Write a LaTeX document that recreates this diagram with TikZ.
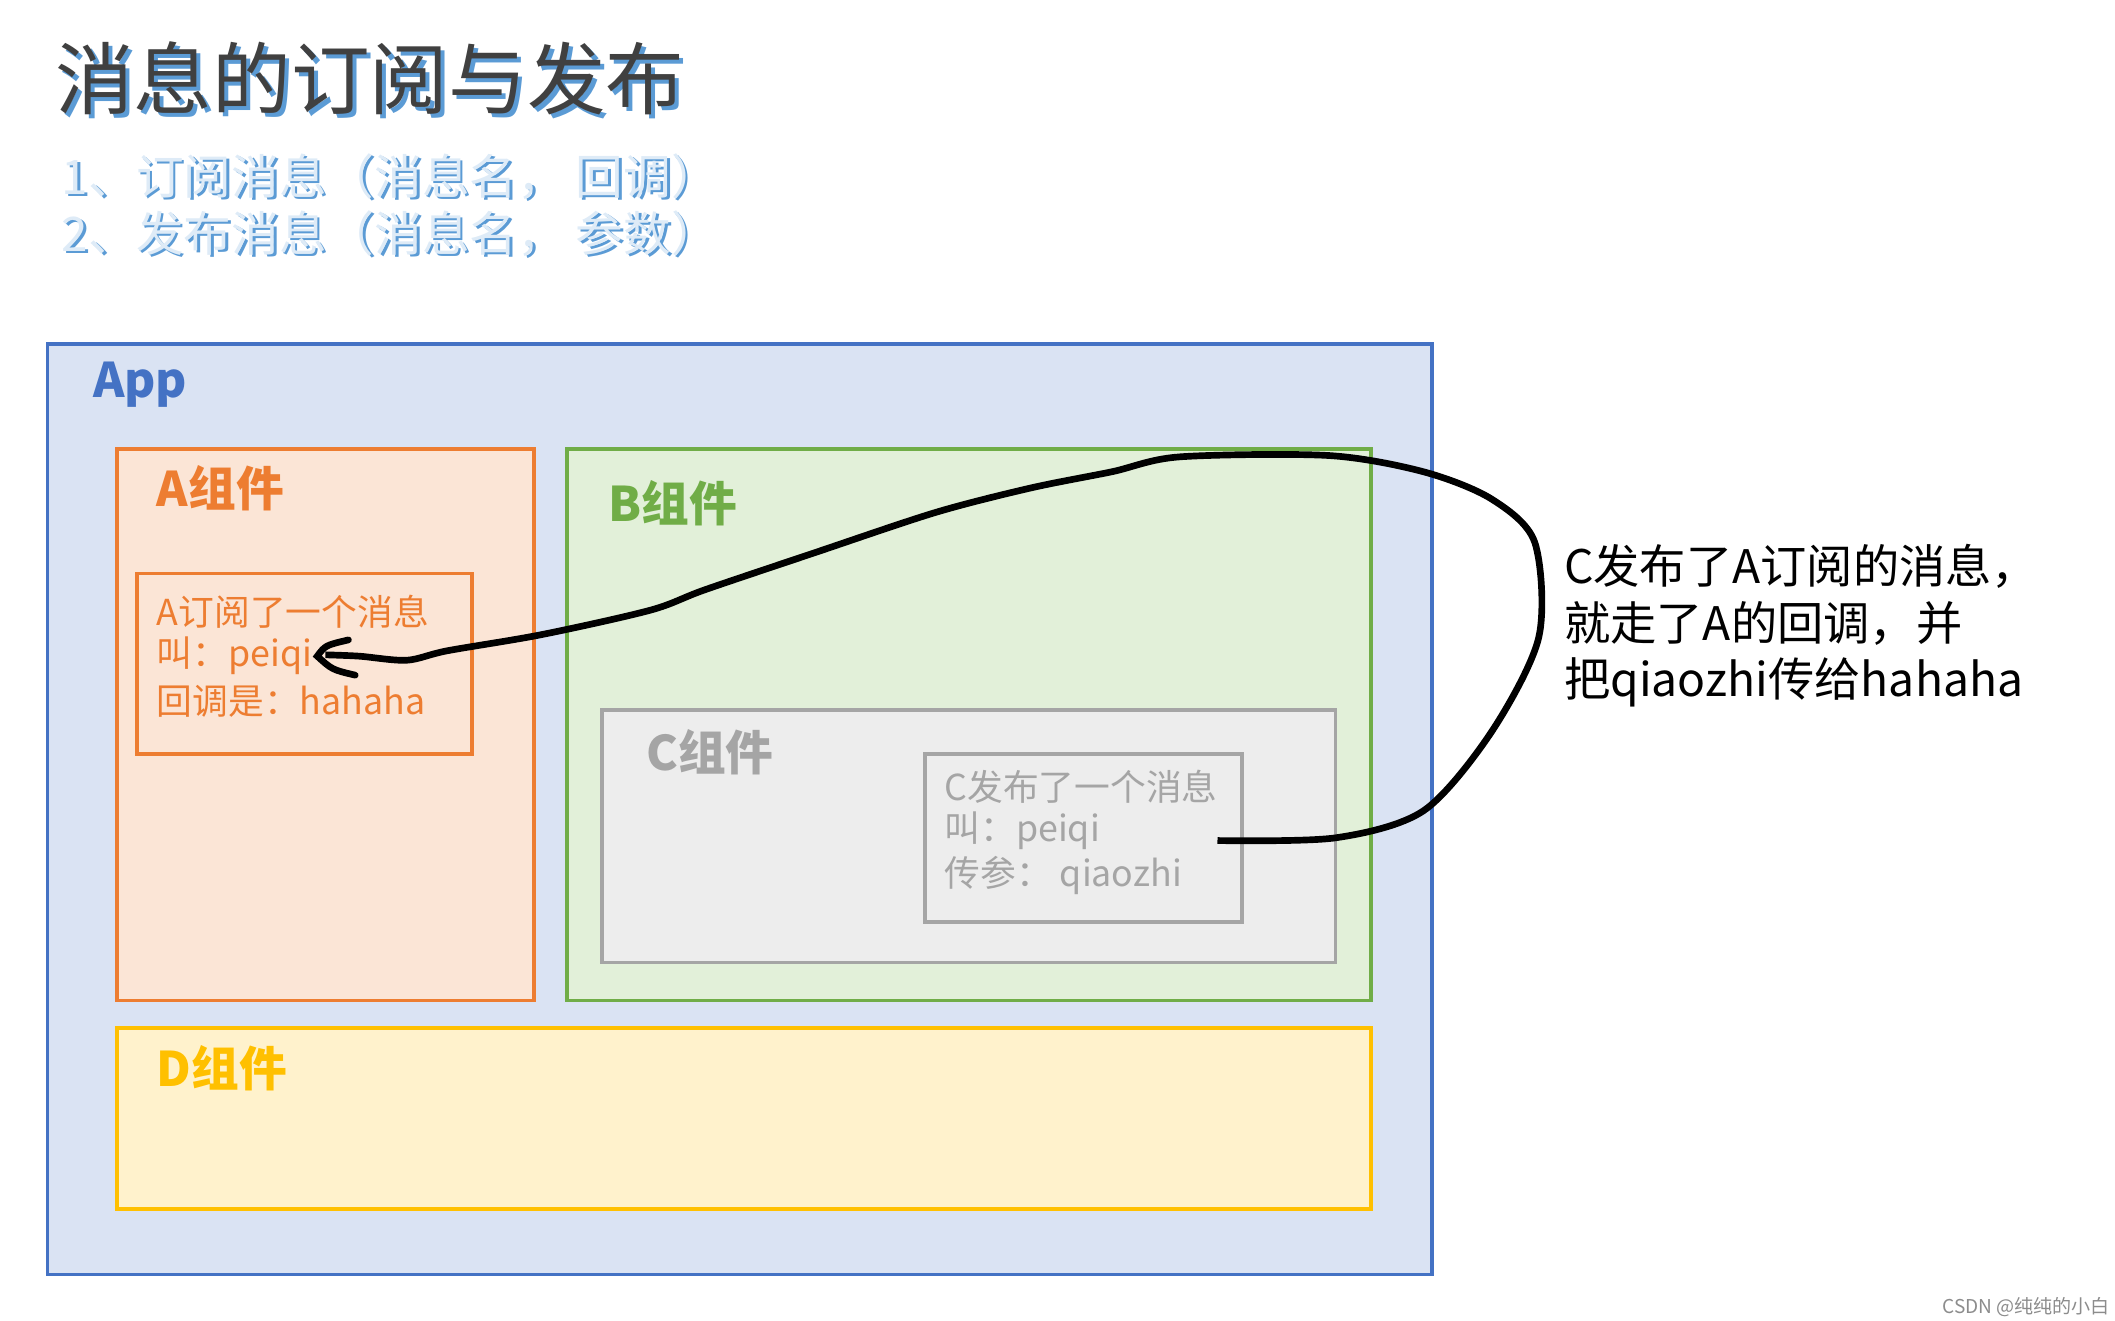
\documentclass[tikz,border=0pt]{standalone}
\usepackage{fontspec}
\setmainfont{Noto Sans CJK SC}
\newfontfamily\lightcjk{Noto Sans CJK SC Light}
\definecolor{appf}{HTML}{DAE3F3}\definecolor{appd}{HTML}{4472C4}
\definecolor{af}{HTML}{FBE5D6}\definecolor{ad}{HTML}{ED7D31}
\definecolor{bf}{HTML}{E2F0D9}\definecolor{bd}{HTML}{70AD47}
\definecolor{cf}{HTML}{EDEDED}\definecolor{cd}{HTML}{A5A5A5}
\definecolor{df}{HTML}{FFF2CC}\definecolor{dd}{HTML}{FFC000}
\definecolor{shb}{HTML}{5B9BD5}
\begin{document}
\begin{tikzpicture}[x=0.01cm,y=-0.01cm,
  lbl/.style={anchor=west,inner sep=0pt},
  hdr/.style={lbl,font=\fontsize{10pt}{12pt}\selectfont\bfseries},
  small/.style={lbl,font=\fontsize{7.5pt}{9pt}\selectfont},
  box/.style={line width=0.8pt}]
\useasboundingbox (0,0) rectangle (1560,974);
% title
\node[lbl,text=shb,font=\fontsize{16.5pt}{20pt}\selectfont] (tsh) at (43,61) {消息的订阅与发布};
\node[lbl,text=black!75,font=\fontsize{16.5pt}{20pt}\selectfont] (title) at (40,58) {消息的订阅与发布};
\foreach \t/\yy/\n in {1、订阅消息（消息名，\ 回调）/130/a,2、发布消息（消息名，\ 参数）/172/b}{
  \node[lbl,text=shb,font=\fontsize{10pt}{12pt}\selectfont] (s\n) at (47,\yy+2) {\t};
  \node[lbl,text=white!80!shb,font=\fontsize{10pt}{12pt}\selectfont] (t\n) at (45,\yy) {\t};
}
% App
\draw[box,fill=appf,draw=appd] (35,254) rectangle (1056,940);
\node[hdr,text=appd] (app) at (68,284) {App};
% A
\draw[box,fill=af,draw=ad] (86,331) rectangle (394,738);
\node[hdr,text=ad] (ahd) at (115,360) {A组件};
\draw[box,draw=ad] (101,423) rectangle (348,556);
\node[small,text=ad] (a1) at (115,451) {A订阅了一个消息};
\node[small,text=ad] (a2) at (115,484) {叫：peiqi};
\node[small,text=ad] (a3) at (115,517) {回调是：hahaha};
% B
\draw[box,fill=bf,draw=bd] (418,331) rectangle (1011,738);
\node[hdr,text=bd] (bhd) at (448,371) {B组件};
% C
\draw[box,fill=cf,draw=cd] (444,524) rectangle (985,710);
\node[hdr,text=cd] (chd) at (476,555) {C组件};
\draw[box,draw=cd] (682,556) rectangle (916,680);
\node[small,text=cd] (c1) at (696,580) {C发布了一个消息};
\node[small,text=cd] (c2) at (696,613) {叫：peiqi};
\node[small,text=cd] (c3) at (696,646) {传参：\ qiaozhi};
% D
\draw[box,fill=df,draw=dd] (86,758) rectangle (1011,892);
\node[hdr,text=dd] (dhd) at (115,788) {D组件};
% curve
\coordinate (st) at (898,620);
\coordinate (tip) at (234,484);
\draw[line width=1.4pt,line join=round] plot[smooth,tension=0.5] coordinates {
 (898,620) (985,618) (1050,598) (1100,540) (1135,470) (1132,400) (1100,368) (1050,348) (980,336) (870,337) (820,348) (760,360) (690,378) (600,408) (520,435) (480,450) (400,468) (330,480) (300,487) (265,484) (240,483)};
\draw[line width=1.4pt,line cap=round] (257,472) .. controls (240,476) .. (tip) .. controls (245,494) .. (262,498);
% right text
\node[lbl,font=\fontsize{9.7pt}{12pt}\selectfont] (r1) at (1153,418) {C发布了A订阅的消息，};
\node[lbl,font=\fontsize{9.7pt}{12pt}\selectfont] (r2) at (1153,460) {就走了A的回调，并};
\node[lbl,font=\fontsize{9.7pt}{12pt}\selectfont] (r3) at (1153,503) {把qiaozhi传给hahaha};
\node[lbl,text=black!45,font=\fontsize{4pt}{5pt}\selectfont] (wm) at (1432,964) {CSDN @纯纯的小白};
\end{tikzpicture}
\end{document}
